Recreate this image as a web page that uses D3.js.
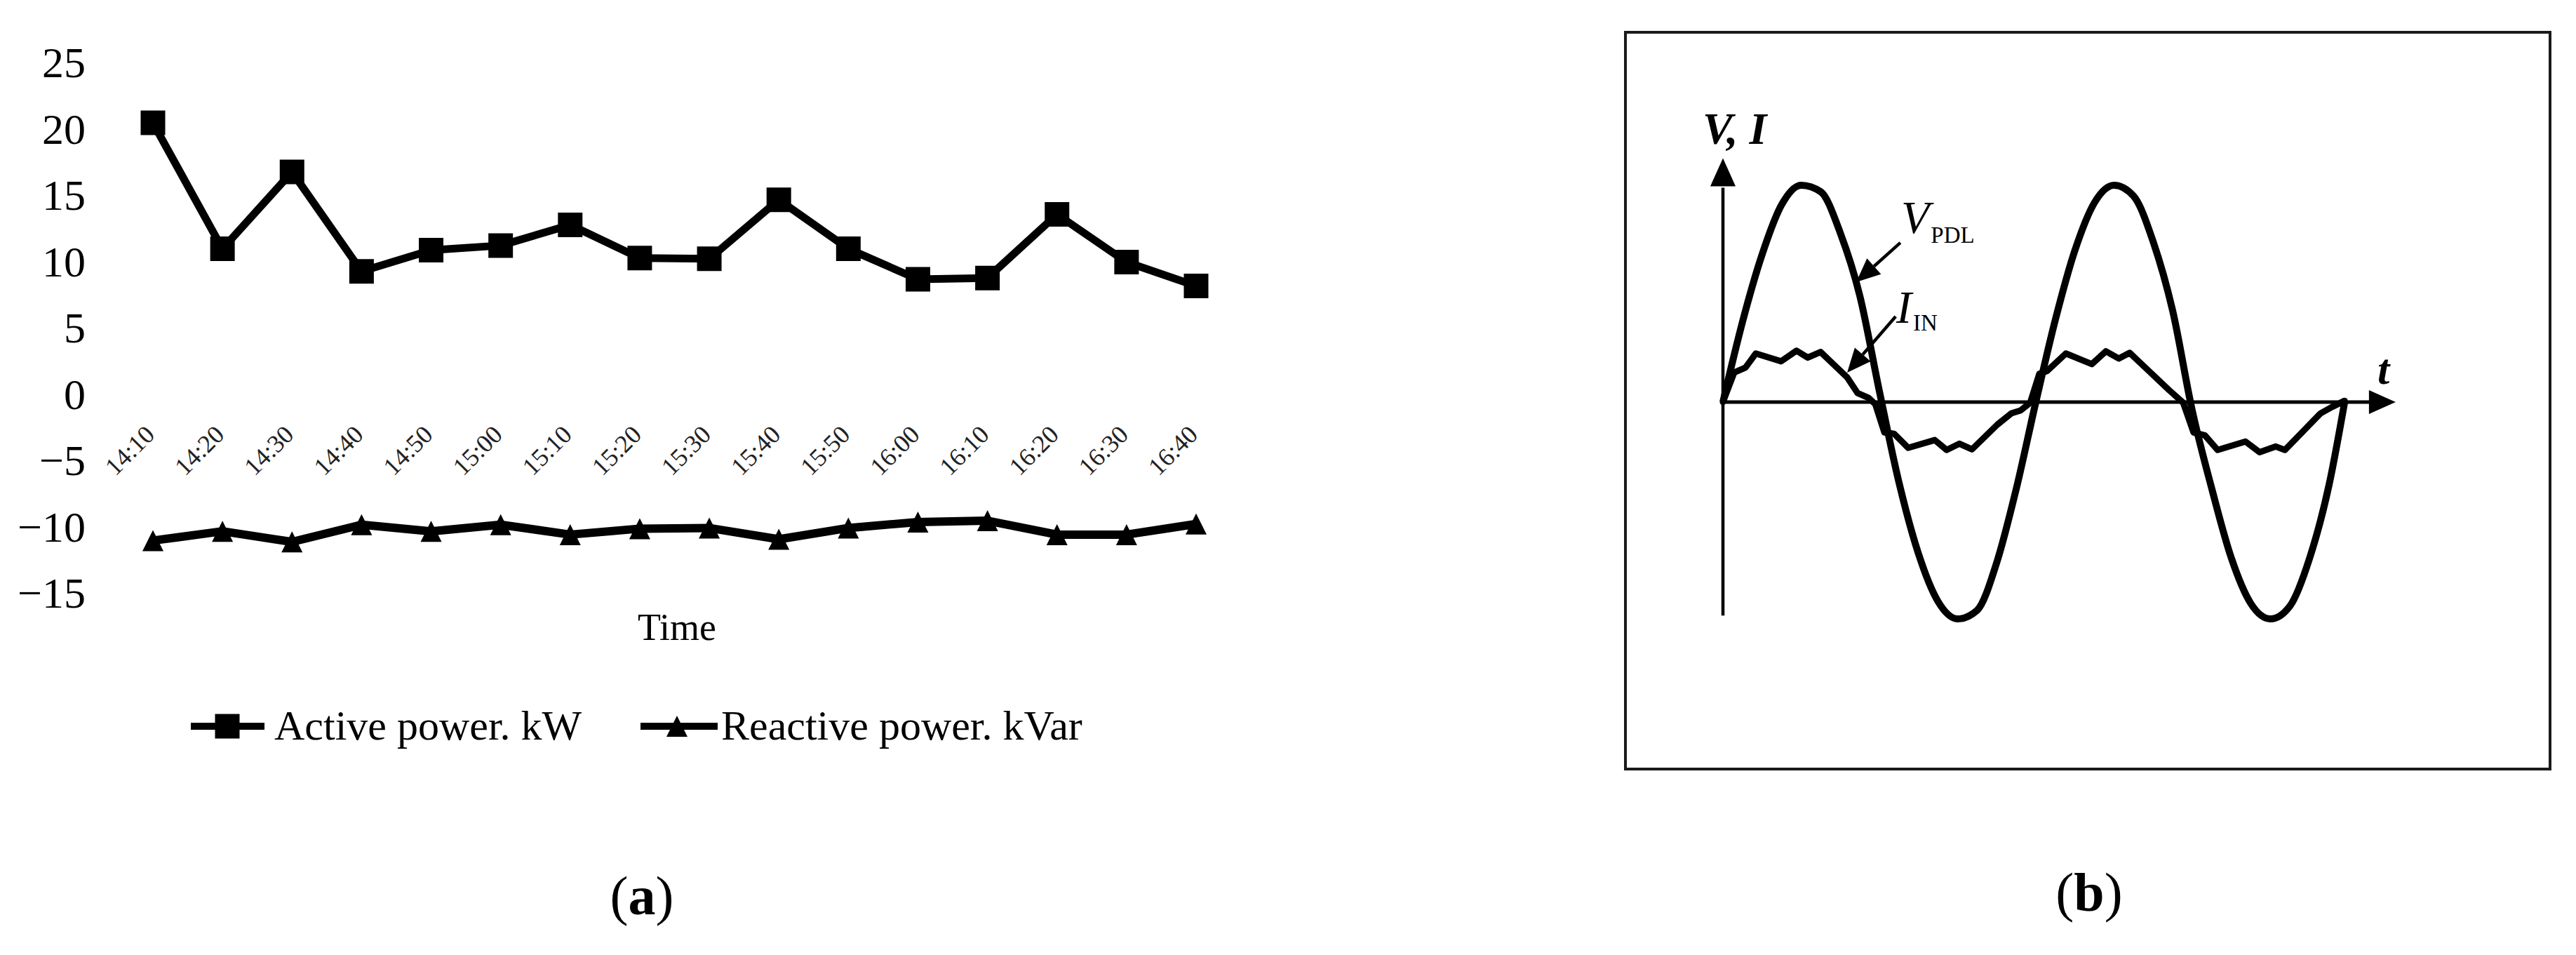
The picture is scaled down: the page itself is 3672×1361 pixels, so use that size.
<!DOCTYPE html>
<html>
<head>
<meta charset="utf-8">
<script src="https://cdn.jsdelivr.net/npm/d3@7"></script>
<style>
  html, body { margin: 0; padding: 0; background: #fff; }
  svg { display: block; }
</style>
</head>
<body>
<svg id="chart" width="3672" height="1361"></svg>
<script>
// ---------------- DATA: panel (a) ----------------
const categories = ["14:10","14:20","14:30","14:40","14:50","15:00","15:10","15:20",
                    "15:30","15:40","15:50","16:00","16:10","16:20","16:30","16:40"];
const activePower   = [20.5, 11.0, 16.8, 9.3, 10.9, 11.25, 12.8, 10.3,
                       10.25, 14.7, 11.0, 8.7, 8.8, 13.6, 10.0, 8.2];
const reactivePower = [-11.0, -10.3, -11.1, -9.8, -10.3, -9.8, -10.55, -10.1,
                       -10.05, -10.9, -10.05, -9.6, -9.5, -10.55, -10.55, -9.75];
const yTicks = [-15, -10, -5, 0, 5, 10, 15, 20, 25];
const legendLabels = ["Active power. kW", "Reactive power. kVar"];
const xTitle = "Time";

// ---------------- DATA: panel (b) (schematic) ----------------
// time in periods, value normalised to V_PDL amplitude
const vpdlT = [0, 0.0625, 0.125, 0.1875, 0.25, 0.3125, 0.375, 0.4375, 0.5,
               0.5625, 0.625, 0.6875, 0.75, 0.8125, 0.875, 0.9375, 1.0,
               1.0625, 1.125, 1.1875, 1.25, 1.3125, 1.375, 1.4375, 1.5,
               1.5625, 1.625, 1.6875, 1.75, 1.8125, 1.875, 1.9375, 1.987];
const vpdlV = [0, 0.37, 0.68, 0.91, 1.0, 0.97, 0.78, 0.49, 0.05,
               -0.37, -0.70, -0.92, -1.0, -0.96, -0.74, -0.40, 0,
               0.38, 0.70, 0.92, 1.0, 0.95, 0.74, 0.42, -0.04,
               -0.40, -0.72, -0.93, -1.0, -0.94, -0.72, -0.38, 0];
const iinT = [0, 0.036, 0.072, 0.105, 0.186, 0.235, 0.271, 0.312, 0.397, 0.430, 0.466,
              0.487, 0.516, 0.547, 0.592, 0.677, 0.715, 0.756, 0.796, 0.877, 0.922, 0.951,
              0.982, 1.011, 1.036, 1.096, 1.179, 1.224, 1.265, 1.300, 1.426, 1.471,
              1.504, 1.540, 1.581, 1.670, 1.715, 1.767, 1.796, 1.910, 1.946, 1.987];
const iinV = [0, 0.136, 0.159, 0.224, 0.188, 0.237, 0.205, 0.231, 0.114, 0.042, 0.019,
              -0.010, -0.140, -0.146, -0.211, -0.175, -0.221, -0.192, -0.218, -0.104, -0.052, -0.039,
              -0.003, 0.130, 0.143, 0.224, 0.175, 0.234, 0.201, 0.227, 0.055, -0.003,
              -0.140, -0.153, -0.221, -0.182, -0.231, -0.205, -0.221, -0.052, -0.023, 0.006];

// ---------------- DRAWING ----------------
const FONT = "'Liberation Serif', 'Times New Roman', serif";
const svg = d3.select("#chart");
svg.append("rect").attr("width", 3672).attr("height", 1361).attr("fill", "#fff");

// ===== Panel (a) =====
const x = d3.scalePoint().domain(categories).range([218, 1705]);
const y = d3.scaleLinear().domain([-15, 25]).range([846, 90]);

const yAxis = svg.append("g").attr("transform", "translate(122,0)")
  .call(d3.axisLeft(y).tickValues(yTicks).tickSize(0).tickPadding(0));
yAxis.select(".domain").remove();
yAxis.selectAll("text")
  .attr("font-family", FONT).attr("font-size", 62).attr("fill", "#000");

const xAxis = svg.append("g").attr("transform", `translate(0,${y(0)})`)
  .call(d3.axisBottom(x).tickSize(0).tickPadding(0));
xAxis.select(".domain").remove();
xAxis.selectAll("text")
  .attr("x", 0).attr("y", 0).attr("dy", 0)
  .attr("text-anchor", "end")
  .attr("transform", "translate(4,59) rotate(-45)")
  .attr("font-family", FONT).attr("font-size", 36).attr("fill", "#222");

const lineGen = d3.line().x((d, i) => x(categories[i])).y(d => y(d));

const triSymbol = {
  draw(ctx, size) {
    const s = Math.sqrt(size);
    ctx.moveTo(0, -s / 2);
    ctx.lineTo(s / 2, s / 2);
    ctx.lineTo(-s / 2, s / 2);
    ctx.closePath();
  }
};
const squarePath = d3.symbol(d3.symbolSquare, 35 * 35)();
const triPath = d3.symbol(triSymbol, 30 * 30)();

svg.append("path").datum(activePower).attr("d", lineGen)
  .attr("fill", "none").attr("stroke", "#000").attr("stroke-width", 11)
  .attr("stroke-linejoin", "round");
svg.append("g").selectAll("path").data(activePower).join("path")
  .attr("d", squarePath)
  .attr("transform", (d, i) => `translate(${x(categories[i])},${y(d)})`)
  .attr("fill", "#000");

svg.append("path").datum(reactivePower).attr("d", lineGen)
  .attr("fill", "none").attr("stroke", "#000").attr("stroke-width", 12)
  .attr("stroke-linejoin", "round");
svg.append("g").selectAll("path").data(reactivePower).join("path")
  .attr("d", triPath)
  .attr("transform", (d, i) => `translate(${x(categories[i])},${y(d)})`)
  .attr("fill", "#000");

// x title
svg.append("text").attr("x", 965).attr("y", 912).attr("text-anchor", "middle")
  .attr("font-family", FONT).attr("font-size", 54).attr("fill", "#000").text(xTitle);

// legend
const legendItems = [
  { label: legendLabels[0], x0: 272, x1: 377, mx: 324, tx: 391, sym: squarePath },
  { label: legendLabels[1], x0: 913, x1: 1023, mx: 965, tx: 1028, sym: triPath }
];
const legendY = 1035;
const lg = svg.append("g");
legendItems.forEach(it => {
  lg.append("line").attr("x1", it.x0).attr("x2", it.x1).attr("y1", legendY).attr("y2", legendY)
    .attr("stroke", "#000").attr("stroke-width", 10);
  lg.append("path").attr("d", it.sym).attr("transform", `translate(${it.mx},${legendY})`).attr("fill", "#000");
  lg.append("text").attr("x", it.tx).attr("y", legendY + 19)
    .attr("font-family", FONT).attr("font-size", 60).attr("fill", "#000").text(it.label);
});

// caption (a)
const capA = svg.append("text").attr("x", 915).attr("y", 1303).attr("text-anchor", "middle")
  .attr("font-family", FONT).attr("font-size", 78).attr("fill", "#000");
capA.append("tspan").text("(");
capA.append("tspan").attr("font-weight", "bold").text("a");
capA.append("tspan").text(")");

// ===== Panel (b) =====
svg.append("rect").attr("x", 2317).attr("y", 46).attr("width", 1318).attr("height", 1050)
  .attr("fill", "none").attr("stroke", "#1a1a1a").attr("stroke-width", 4);

const t = d3.scaleLinear().domain([0, 2]).range([2456, 3348]);
const v = d3.scaleLinear().domain([-1, 1]).range([882, 264]);

function arrowHead(g, tx, ty, fx, fy, len, hw) {
  const dx = tx - fx, dy = ty - fy, L = Math.hypot(dx, dy);
  const ux = dx / L, uy = dy / L;
  const bx = tx - ux * len, by = ty - uy * len;
  const px = -uy, py = ux;
  g.append("path")
    .attr("d", `M${tx},${ty}L${bx + px * hw},${by + py * hw}L${bx - px * hw},${by - py * hw}Z`)
    .attr("fill", "#000");
  return [bx, by];
}

const gb = svg.append("g");
// axes
const tAxisEnd = 2.15, vAxisTop = 1.125, vAxisBottom = -0.985;
const yTip = [t(0), v(vAxisTop)];
const yBase = arrowHead(gb, yTip[0], yTip[1], t(0), v(vAxisBottom), 40, 18);
gb.append("line").attr("x1", t(0)).attr("x2", t(0)).attr("y1", v(vAxisBottom)).attr("y2", yBase[1] + 2)
  .attr("stroke", "#000").attr("stroke-width", 4.5);
const xTip = [t(tAxisEnd), v(0)];
const xBase = arrowHead(gb, xTip[0], xTip[1], t(0), v(0), 38, 17);
gb.append("line").attr("x1", t(0) - 2).attr("x2", xBase[0] + 2).attr("y1", v(0)).attr("y2", v(0))
  .attr("stroke", "#000").attr("stroke-width", 5);

// curves
const vLine = d3.line().x((d, i) => t(vpdlT[i])).y(d => v(d)).curve(d3.curveMonotoneX);
gb.append("path").datum(vpdlV).attr("d", vLine)
  .attr("fill", "none").attr("stroke", "#000").attr("stroke-width", 10)
  .attr("stroke-linejoin", "round").attr("stroke-linecap", "butt");
const iLine = d3.line().x((d, i) => t(iinT[i])).y(d => v(d));
gb.append("path").datum(iinV).attr("d", iLine)
  .attr("fill", "none").attr("stroke", "#000").attr("stroke-width", 9)
  .attr("stroke-linejoin", "round").attr("stroke-linecap", "round");

// annotation arrows
function annotArrow(from, to) {
  const fx = t(from[0]), fy = v(from[1]), tx = t(to[0]), ty = v(to[1]);
  const b = arrowHead(gb, tx, ty, fx, fy, 34, 15);
  gb.append("line").attr("x1", fx).attr("y1", fy).attr("x2", b[0]).attr("y2", b[1])
    .attr("stroke", "#000").attr("stroke-width", 4.5);
}
annotArrow([0.567, 0.735], [0.426, 0.553]);
annotArrow([0.552, 0.395], [0.397, 0.136]);

// labels
function subLabel(xp, yp, main, sub, subDx, subDy) {
  const tx = gb.append("text").attr("x", xp).attr("y", yp)
    .attr("font-family", FONT).attr("fill", "#000");
  tx.append("tspan").attr("font-style", "italic").attr("font-size", 66).text(main);
  tx.append("tspan").attr("font-size", 33).attr("dx", subDx).attr("dy", subDy).text(sub);
}
subLabel(2710, 332, "V", "PDL", 2, 14);
subLabel(2703, 460, "I", "IN", 2, 11);

gb.append("text").attr("x", 2427).attr("y", 205)
  .attr("font-family", FONT).attr("font-size", 64).attr("font-weight", "bold").attr("font-style", "italic")
  .attr("fill", "#000").text("V, I");
gb.append("text").attr("x", 3389).attr("y", 547)
  .attr("font-family", FONT).attr("font-size", 62).attr("font-weight", "bold").attr("font-style", "italic")
  .attr("fill", "#000").text("t");

const capB = svg.append("text").attr("x", 2978).attr("y", 1298).attr("text-anchor", "middle")
  .attr("font-family", FONT).attr("font-size", 78).attr("fill", "#000");
capB.append("tspan").text("(");
capB.append("tspan").attr("font-weight", "bold").text("b");
capB.append("tspan").text(")");
</script>
</body>
</html>
